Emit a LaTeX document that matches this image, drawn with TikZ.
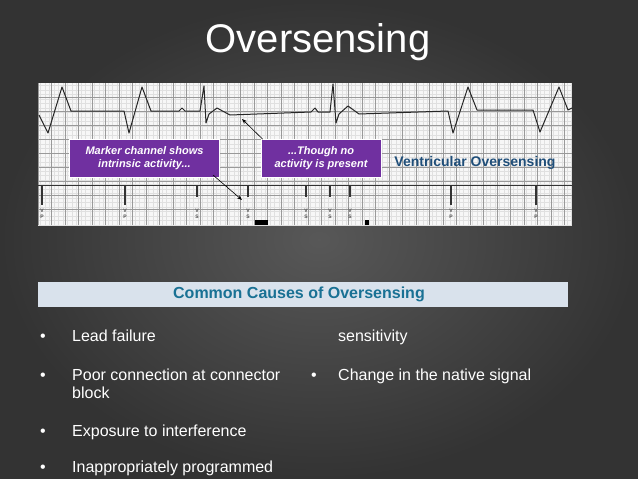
\documentclass[tikz,border=0pt]{standalone}
\usepackage{fontspec}
\setmainfont{Liberation Sans}
\usetikzlibrary{arrows.meta}
\definecolor{bg}{HTML}{333333}
\definecolor{purp}{HTML}{7030A0}
\definecolor{dblue}{HTML}{1F4E79}
\definecolor{banner}{HTML}{D9E2EC}
\begin{document}
\begin{tikzpicture}[x=1pt,y=-1pt,
  bul/.style={anchor=base west,text=white,font=\fontsize{16}{18}\selectfont,inner sep=0},
  pbox/.style={draw=white,line width=0.6pt,fill=purp,text=white,font=\bfseries\itshape\fontsize{11}{13}\selectfont,align=center,inner sep=0},
  mk/.style={line width=1.3pt,draw=black!80},
  lab/.style={font=\fontsize{5}{5.5}\selectfont\bfseries,text=black!70,align=center,inner sep=0},
  arr/.style={-{Stealth[length=5pt]},line width=0.6pt}]
\path[use as bounding box,fill=bg] (0,0) rectangle (638,479);
\shade[inner color=bg!82!white,outer color=bg] (0,0) rectangle (638,479);
\node[text=white,font=\fontsize{40}{44}\selectfont] (title) at (318,42) {Oversensing};
% strip
\fill[black!3] (38,83) rectangle (572,225);
\draw[black!12,line width=0.2pt,step=4.5pt] (38,83) grid (572,225);
\foreach \x in {38,51.5,...,572} \draw[black!40,line width=0.35pt] (\x,83) -- (\x,225);
\foreach \y in {97,111,125,139,153,167,181,195,209} \draw[black!40,line width=0.35pt] (38,\y) -- (572,\y);
\draw[line width=1pt,black!85,line join=round]
 (39,115)--(48,133)--(62,87)--(71,111)--(124,111)--(129,133)--(142,87)--(151,111)--(179,111)--(182,108)--(185,111)--(200,111)--(204,86)--(206,123)--(209,114)--(217,108)--(230,115)--(311,112)--(315,108)--(318,112)--(330,112)--(333,84)--(336,123)--(339,114)--(348,106)--(359,114)--(448,111)--(453,133)--(468,87)--(477,110)--(533,110)--(540,132)--(559,87)--(568,110)--(572,108);
\draw[line width=0.8pt,black!80] (38,185)--(572,185);
\foreach \x in {42,125,451,536}{ \draw[mk] (\x,185)--(\x,205); \node[lab] at (\x,214) {V\\P};}
\foreach \x in {197,248,306,330,350}{ \draw[mk] (\x,185)--(\x,197); \node[lab] at (\x,214) {V\\S};}
\fill[black] (255,220) rectangle (268,225);
\fill[black] (365,220) rectangle (369,225);
\node[pbox,minimum width=150pt,minimum height=38pt] (b1) at (144.5,158.5) {Marker channel shows\\intrinsic activity...};
\node[pbox,minimum width=120pt,minimum height=38pt] (b2) at (321,158.5) {...Though no\\activity is present};
\node[text=dblue,font=\bfseries\fontsize{14}{16}\selectfont] (vo) at (475,163) {Ventricular Oversensing};
\coordinate (t2) at (242,119);
\coordinate (t1) at (242,200);
\draw[arr] (b2.north west) ++(2,0) coordinate (s2) -- (t2);
\draw[arr] (213,175) coordinate (s1) -- (t1);
% banner
\node[fill=banner,minimum width=530pt,minimum height=25pt,inner sep=0,text=dblue!80!cyan,font=\bfseries\fontsize{16}{18}\selectfont] (ban) at (303,294.5) {\hspace*{-8pt}Common Causes of Oversensing};
\foreach \y/\t [count=\i] in {341/Lead failure,380/Poor connection at connector,436/Exposure to interference,472/Inappropriately programmed}{
  \node[bul] (d\i) at (40,\y) {•}; \node[bul] (l\i) at (72,\y) {\t};}
\node[bul] (l5) at (72,398) {block};
\node[bul] (r1) at (338,341) {sensitivity};
\node[bul] (d6) at (311,380) {•};
\node[bul] (r2) at (338,380) {Change in the native signal};
\end{tikzpicture}
\end{document}
